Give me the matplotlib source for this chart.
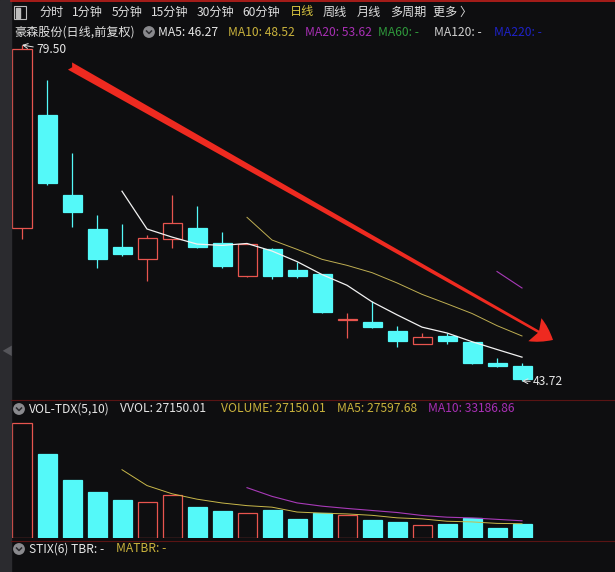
import numpy as np
import pandas as pd
import matplotlib
matplotlib.use("Agg")
import matplotlib.pyplot as plt
from matplotlib.patches import Rectangle, Circle
from matplotlib.lines import Line2D

plt.rcParams['font.family'] = ['Noto Sans CJK SC', 'DejaVu Sans']

W, H = 615, 572

# daily candles (price, yuan)
opens = [60.01, 72.05, 63.53, 59.91, 57.99, 56.74, 58.84, 60.01, 58.41, 54.93, 57.78,
         55.54, 55.11, 50.25, 49.97, 49.04, 47.63, 48.51, 47.84, 45.67, 45.32]
highs = [79.50, 75.77, 68.00, 61.40, 60.44, 59.27, 63.53, 62.36, 59.59, 58.31, 57.85,
         56.42, 55.11, 50.93, 52.24, 49.58, 48.86, 48.83, 47.84, 46.14, 45.67]
lows = [58.84, 64.59, 60.12, 55.75, 57.06, 54.40, 57.91, 57.91, 55.78, 54.79, 54.58,
        54.72, 50.93, 48.27, 49.40, 47.31, 47.63, 47.63, 45.50, 45.24, 43.72]
closes = [79.07, 64.84, 61.75, 56.71, 57.28, 58.95, 60.54, 58.02, 56.00, 58.31, 54.93,
          54.93, 51.10, 50.30, 49.50, 48.01, 48.37, 47.98, 45.67, 45.35, 43.93]
volumes = [219140, 159780, 110520, 87780, 72620, 68830, 82100, 59360, 51780, 47370, 54310,
           36100, 48800, 44300, 34200, 30500, 26000, 26600, 38000, 20200, 27150.01]

periods = ["分时", "1分钟", "5分钟", "15分钟", "30分钟", "60分钟", "日线", "周线", "月线", "多周期", "更多 〉"]
period_x = [39, 72, 112, 151, 197, 242, 290, 323, 357, 390, 433]
active_period = "日线"

stock_name = "豪森股份(日线,前复权)"
ma_labels = ["MA5: 46.27", "MA10: 48.52", "MA20: 53.62", "MA60: -", "MA120: -", "MA220: -"]
ma_label_x = [158, 228, 305, 378, 434, 494]
ma_label_colors = ["#e6e6e6", "#c9b23c", "#a82fb4", "#2f9a3c", "#cfcfcf", "#1e22c8"]

vol_labels = ["VOL-TDX(5,10)", "VVOL: 27150.01", "VOLUME: 27150.01", "MA5: 27597.68", "MA10: 33186.86"]
vol_label_x = [29, 120, 221, 337, 428]
vol_label_colors = ["#e6e6e6", "#e6e6e6", "#c9b23c", "#c9b23c", "#a82fb4"]

stix_labels = ["STIX(6) TBR: -", "MATBR: -"]
stix_label_x = [29, 116]
stix_label_colors = ["#e6e6e6", "#c9b23c"]

high_label = "79.50"
low_label = "43.72"
arrow_from = (1.92, 77.26)
arrow_to = (21.24, 48.09)

BG = "#0e0e10"
UP = "#e8554f"
DOWN = "#54f9f9"

o = np.array(opens)
c = np.array(closes)
hi = np.array(highs)
lo = np.array(lows)
x = np.arange(len(opens))
up = c >= o

ma5 = pd.Series(c).rolling(5).mean()
ma10 = pd.Series(c).rolling(10).mean()
ma20 = pd.Series(c).rolling(20).mean()
vma5 = pd.Series(volumes).rolling(5).mean()
vma10 = pd.Series(volumes).rolling(10).mean()

fig = plt.figure(figsize=(W / 100, H / 100), dpi=100, facecolor=BG)
inch = fig.dpi_scale_trans


def px_axes(left, top, right, bottom):
    return fig.add_axes([left / W, 1 - bottom / H, (right - left) / W, (bottom - top) / H])


def txt(xp, yp, s, color, size=8.7):
    fig.text(xp / 100, (H - yp) / 100, s, color=color, fontsize=size, va='center',
             ha='left', transform=inch)


def icon(xp, yp):
    fig.patches.append(Circle((xp / 100, (H - yp) / 100), 0.052, transform=inch,
                              color="#8a8a8e", zorder=5))
    fig.lines.append(Line2D([(xp - 2.5) / 100, xp / 100, (xp + 2.5) / 100],
                            [(H - yp + 1) / 100, (H - yp - 1.5) / 100, (H - yp + 1) / 100],
                            transform=inch, color="#2a2a2e", lw=1.1, zorder=6))


# left strip and separators
fig.patches.append(Rectangle((0, 0), 0.105, H / 100, transform=inch, color="#2b2b2f", zorder=0))
txt(1.5, 352, "◀", "#55555a", size=8)
fig.lines.append(Line2D([0.105, W / 100], [(H - 0.5) / 100] * 2, transform=inch, color="#c0201c", lw=1.2))
for ysep in [399.5, 540.5]:
    fig.lines.append(Line2D([0.105, W / 100], [(H - ysep) / 100] * 2, transform=inch,
                            color="#5a1414", lw=0.8))

# toolbar
fig.patches.append(Rectangle((0.14, (H - 19) / 100), 0.12, 0.13, transform=inch, fill=False,
                             ec="#bdbdbd", lw=0.8))
fig.patches.append(Rectangle((0.155, (H - 17.5) / 100), 0.045, 0.10, transform=inch, color="#bdbdbd"))
for name, xp in zip(periods, period_x):
    txt(xp, 12, name, "#d8c440" if name == active_period else "#e0e0e0")

txt(14, 32, stock_name, "#e0e0e0")
icon(149, 32)
for s, xp, col in zip(ma_labels, ma_label_x, ma_label_colors):
    txt(xp, 32, s, col)

# ---- price panel
ax = px_axes(11, 40, W, 398)
ax.set_facecolor(BG)
k = 0.10649
ax.set_ylim(79.50 - (398 - 45) * k, 79.50 + 5 * k)
ax.set_xlim(-0.44, 23.72)
ax.axis('off')

bw = 0.76
for i in x:
    col = UP if up[i] else DOWN
    ax.vlines(i, lo[i], hi[i], color=col, lw=0.9, zorder=2)
    bot = min(o[i], c[i])
    hgt = max(abs(c[i] - o[i]), 0.04)
    if up[i]:
        ax.add_patch(Rectangle((i - bw / 2, bot), bw, hgt, fc=BG, ec=col, lw=0.9, zorder=3))
    else:
        ax.add_patch(Rectangle((i - bw / 2, bot), bw, hgt, fc=col, ec=col, lw=0.9, zorder=3))

ax.plot(x, ma5, color="#f2f2f2", lw=0.9, zorder=4)
ax.plot(x, ma10, color="#bfae52", lw=0.7, zorder=4)
ax.plot(x, ma20, color="#a83ab8", lw=0.8, zorder=4)

imax = int(np.argmax(hi))
imin = int(np.argmin(lo))
ax.annotate(high_label, xy=(imax, hi[imax]), xytext=(14, -5), textcoords='offset pixels',
            color="#e6e6e6", fontsize=8.7, va='center', ha='left',
            arrowprops=dict(arrowstyle='->', color="#e6e6e6", lw=0.7, shrinkA=0, shrinkB=0))
ax.annotate(low_label, xy=(imin, lo[imin]), xytext=(11, -1), textcoords='offset pixels',
            color="#e6e6e6", fontsize=8.7, va='center', ha='left',
            arrowprops=dict(arrowstyle='->', color="#e6e6e6", lw=0.7, shrinkA=0, shrinkB=0))

ax.annotate("", xy=arrow_to, xytext=arrow_from,
            arrowprops=dict(arrowstyle="fancy,head_length=0.75,head_width=0.95,tail_width=0.3",
                            fc="#ee2a20", ec="none", mutation_scale=20, shrinkA=0, shrinkB=0),
            zorder=6)

# ---- volume panel
vax = px_axes(11, 415, W, 538.3)
vax.set_facecolor(BG)
vax.set_xlim(-0.44, 23.72)
vax.set_ylim(0, (538.3 - 415) * 1894.6)
vax.axis('off')
vcolors = [UP if u else DOWN for u in up]
vax.bar(x, volumes, width=bw, color=[BG if u else DOWN for u in up],
        edgecolor=vcolors, lw=0.9, zorder=2)
vax.plot(x, vma5, color="#c9b84a", lw=0.7, zorder=3)
vax.plot(x, vma10, color="#a83ab8", lw=0.8, zorder=3)

icon(19, 409)
for s, xp, col in zip(vol_labels, vol_label_x, vol_label_colors):
    txt(xp, 409, s, col)

icon(19, 549)
for s, xp, col in zip(stix_labels, stix_label_x, stix_label_colors):
    txt(xp, 549, s, col)

fig.savefig("out.png", dpi=100, facecolor=BG)
